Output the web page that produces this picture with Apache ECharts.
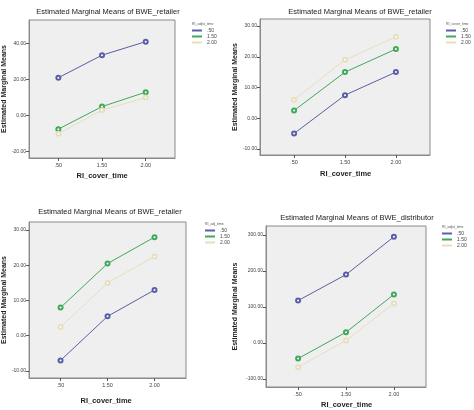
<!DOCTYPE html>
<html>
<head>
<meta charset="utf-8">
<script src="https://cdn.jsdelivr.net/npm/echarts@6/dist/echarts.min.js"></script>
<style>html,body{margin:0;background:#fff}#main{width:474px;height:410px}</style>
</head>
<body>
<div id="main"></div>
<script>
    var xValues = [0, 1, 2];
    var xLabels = ['.50', '1.50', '2.00'];
    var levelNames = ['.50', '1.50', '2.00'];
    var titles = ['Estimated Marginal Means of BWE_retailer', 'Estimated Marginal Means of BWE_retailer',
        'Estimated Marginal Means of BWE_retailer', 'Estimated Marginal Means of BWE_distributor'];
    var legendTitles = ['RI_adjst_time', 'RI_cover_time', 'RI_adj_time', 'RI_adjst_time'];

    // values per chart: [.50, 1.50, 2.00]
    var p1Blue = [21, 33.5, 41], p1Green = [-7.5, 5, 13], p1Beige = [-10, 3, 10];
    var p2Blue = [-5, 7.5, 15], p2Green = [2.5, 15, 22.5], p2Beige = [6, 19, 26.5];
    var p3Blue = [-7, 5.5, 13], p3Green = [8, 20.5, 28], p3Beige = [2.5, 15, 22.5];
    var p4Blue = [118, 190, 295], p4Green = [-43, 30, 135], p4Beige = [-67, 7, 110];

    var yTicks = [[-20, 0, 20, 40], [-10, 0, 10, 20, 30], [-10, 0, 10, 20, 30], [-100, 0, 100, 200, 300]];
    var yRange = [[-23.5, 53], [-12, 32.3], [-12, 32.3], [-122, 325]];

    var colors = ['#5a5ea6', '#3fa95a', '#e6dfbd'];
    var plotData = [[p1Blue, p1Green, p1Beige], [p2Blue, p2Green, p2Beige],
        [p3Blue, p3Green, p3Beige], [p4Blue, p4Green, p4Beige]];

    var grids = [
        {left: 28, top: 20, width: 147, height: 138},
        {left: 260, top: 19, width: 170, height: 136},
        {left: 25, top: 222, width: 161, height: 156},
        {left: 266, top: 226, width: 160, height: 161}
    ];
    var titlePos = [[103, 3], [355, 3], [105, 203], [352, 209]];
    var xNameTop = [172, 170, 397, 401];
    var legendPos = [[192, 28], [446, 28], [205, 228], [442, 231]];

    var option = {
        animation: false,
        textStyle: {fontFamily: 'Liberation Sans, Arial'},
        title: [], grid: [], xAxis: [], yAxis: [], legend: [], series: [], graphic: []
    };

    for (var i = 0; i < 4; i++) {
        var g = grids[i];
        option.grid.push({left: g.left, top: g.top, width: g.width, height: g.height,
            show: true, backgroundColor: '#efefef', borderColor: '#8a8a8a', borderWidth: 1});
        option.title.push({text: titles[i], left: titlePos[i][0], top: titlePos[i][1], textAlign: 'center',
            textStyle: {fontSize: 7.5, fontWeight: 'normal', color: '#222'}});
        option.xAxis.push({
            type: 'value', gridIndex: i, min: -0.67, max: 2.67,
            splitLine: {show: false},
            axisLine: {show: true, onZero: false, lineStyle: {color: '#8a8a8a'}},
            axisTick: {show: true, customValues: xValues, length: 3, lineStyle: {color: '#555'}},
            axisLabel: {customValues: xValues, fontSize: 5.5, color: '#444', margin: 4,
                formatter: function (v) { return xLabels[Math.round(v)]; }}
        });
        option.yAxis.push({
            type: 'value', gridIndex: i, min: yRange[i][0], max: yRange[i][1],
            splitLine: {show: false},
            axisLine: {show: true, onZero: false, lineStyle: {color: '#8a8a8a'}},
            axisTick: {show: true, customValues: yTicks[i], length: 3, lineStyle: {color: '#555'}},
            axisLabel: {customValues: yTicks[i], fontSize: 5, color: '#444', margin: 3,
                formatter: function (v) { return v.toFixed(2); }},
            name: 'Estimated Marginal Means', nameLocation: 'middle',
            nameGap: i === 3 ? 27 : (i === 1 ? 19 : 17), nameRotate: 90,
            nameTextStyle: {fontSize: 7, fontWeight: 'bold', color: '#222'}
        });
        option.graphic.push({type: 'text', left: g.left + g.width / 2 - 25, top: xNameTop[i],
            style: {text: 'RI_cover_time', fontSize: 7.5, fontWeight: 'bold', fill: '#222'}});
        option.graphic.push({type: 'text', left: legendPos[i][0], top: legendPos[i][1] - 6,
            style: {text: legendTitles[i], fontSize: 3.5, fill: '#555'}});
        option.legend.push({orient: 'vertical', left: legendPos[i][0], top: legendPos[i][1],
            data: levelNames, itemWidth: 10, itemHeight: 2, itemGap: 1, icon: 'rect',
            textStyle: {fontSize: 5, color: '#444'}, padding: 0});
        for (var s = 0; s < 3; s++) {
            var pts = [];
            for (var k = 0; k < xValues.length; k++) pts.push([xValues[k], plotData[i][s][k]]);
            option.series.push({
                name: levelNames[s], type: 'line', xAxisIndex: i, yAxisIndex: i,
                symbol: 'emptyCircle', symbolSize: 4, color: colors[s],
                lineStyle: {width: 1}, itemStyle: {borderWidth: 1}, data: pts
            });
        }
    }

    var myChart = echarts.init(document.getElementById('main'));
    myChart.setOption(option);
</script>
</body>
</html>
